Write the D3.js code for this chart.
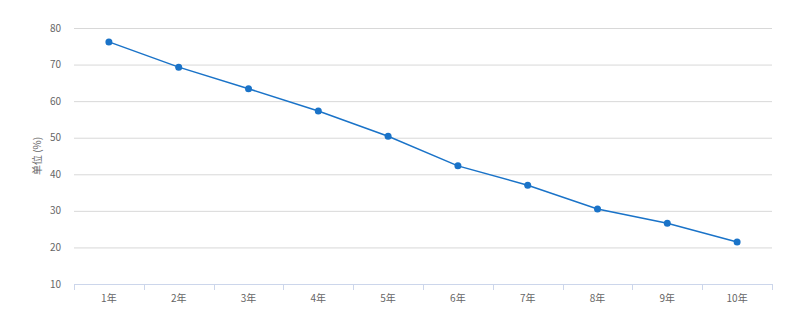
<!DOCTYPE html>
<html>
<head>
<meta charset="utf-8">
<script src="https://cdn.jsdelivr.net/npm/d3@7"></script>
<style>
  body { margin: 0; background: #fff; }
  text { font-family: "Noto Sans CJK SC", "DejaVu Sans", sans-serif; }
</style>
</head>
<body>
<svg id="chart" width="800" height="320"></svg>
<script>
var categories = ["1年", "2年", "3年", "4年", "5年", "6年", "7年", "8年", "9年", "10年"];
var values = [76.2, 69.3, 63.4, 57.3, 50.4, 42.3, 37.0, 30.5, 26.6, 21.5];
var yTicks = [10, 20, 30, 40, 50, 60, 70, 80];
var yTitle = "单位 (%)";

var svg = d3.select("#chart"),
    margin = {top: 28, right: 28, bottom: 36, left: 74},
    width = +svg.attr("width") - margin.left - margin.right,
    height = +svg.attr("height") - margin.top - margin.bottom;

var x = d3.scaleBand().domain(categories).range([0, width]);
var y = d3.scaleLinear().domain([10, 80]).range([height, 0]);

var g = svg.append("g")
    .attr("transform", "translate(" + margin.left + "," + margin.top + ")");

// grid lines
g.selectAll(".grid")
  .data(yTicks.filter(function(d) { return d > 10; }))
  .enter().append("line")
    .attr("class", "grid")
    .attr("x1", 0)
    .attr("x2", width)
    .attr("y1", function(d) { return y(d) + 0.5; })
    .attr("y2", function(d) { return y(d) + 0.5; })
    .attr("stroke", "#d8d8d8")
    .attr("stroke-width", 1);

// y labels
g.selectAll(".ylab")
  .data(yTicks)
  .enter().append("text")
    .attr("class", "ylab")
    .attr("x", -13)
    .attr("y", function(d) { return y(d); })
    .attr("dy", "0.35em")
    .attr("text-anchor", "end")
    .attr("font-size", 10)
    .attr("fill", "#666")
    .text(function(d) { return d; });

// x axis
var xAxis = g.append("g")
    .attr("transform", "translate(0," + height + ")");

xAxis.append("line")
    .attr("x1", 0).attr("x2", width)
    .attr("y1", 0.5).attr("y2", 0.5)
    .attr("stroke", "#ccd6eb");

var bounds = categories.map(function(c) { return x(c); }).concat([width]);
xAxis.selectAll(".tick")
  .data(bounds)
  .enter().append("line")
    .attr("x1", function(d) { return Math.round(d) + 0.5; })
    .attr("x2", function(d) { return Math.round(d) + 0.5; })
    .attr("y1", 0)
    .attr("y2", 6)
    .attr("stroke", "#ccd6eb");

xAxis.selectAll(".xlab")
  .data(categories)
  .enter().append("text")
    .attr("x", function(d) { return x(d) + x.bandwidth() / 2; })
    .attr("y", 18)
    .attr("text-anchor", "middle")
    .attr("font-size", 10)
    .attr("fill", "#666")
    .text(function(d) { return d; });

// y title
svg.append("text")
    .attr("transform", "translate(41," + (margin.top + height / 2) + ") rotate(-90)")
    .attr("text-anchor", "middle")
    .attr("font-size", 10)
    .attr("fill", "#666")
    .text(yTitle);

// line
g.append("path")
    .datum(values)
    .attr("fill", "none")
    .attr("stroke", "#1a73c8")
    .attr("stroke-width", 1.5)
    .attr("d", d3.line()
      .x(function(d, i) { return x(categories[i]) + x.bandwidth() / 2; })
      .y(function(d) { return y(d); }));

g.selectAll(".dot")
  .data(values)
  .enter().append("circle")
    .attr("cx", function(d, i) { return x(categories[i]) + x.bandwidth() / 2; })
    .attr("cy", function(d) { return y(d); })
    .attr("r", 3.5)
    .attr("fill", "#1a73c8");
</script>
</body>
</html>
